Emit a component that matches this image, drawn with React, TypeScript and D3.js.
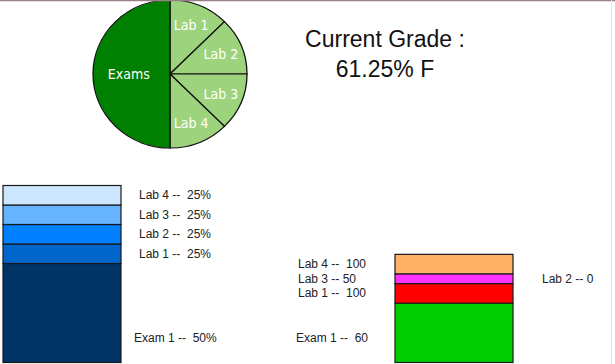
import React from "react";
import * as d3 from "d3";

const W = 615;
const H = 364;

// pie: course weights
const pieLabels = ["Lab 1", "Lab 2", "Lab 3", "Lab 4", "Exams"];
const pieWeights = [12.5, 12.5, 12.5, 12.5, 50];
const pieColors = ["#9dd37c", "#9dd37c", "#9dd37c", "#9dd37c", "#008000"];

// stacked bars, bottom to top
const parts = ["Exam 1", "Lab 1", "Lab 2", "Lab 3", "Lab 4"];
const kinds = ["exam", "lab", "lab", "lab", "lab"];
const weights = [50, 12.5, 12.5, 12.5, 12.5];
const weightText = ["50%", "25%", "25%", "25%", "25%"];
const scores = [60, 100, 0, 50, 100];
const weightColors = ["#003366", "#0066cc", "#0080ff", "#66b3ff", "#cce6ff"];
const scoreColors = ["#00cc00", "#ff0000", "#999999", "#ff33ff", "#ffb266"];

const grade = d3.sum(weights, (w, i) => (w * scores[i]) / 100);

const FONT = "'Liberation Sans', Arial, sans-serif";
const PIE_FONT = "'DejaVu Sans Condensed', 'DejaVu Sans', sans-serif";

// exams and labs are drawn at different heights per point
const examY = d3.scaleLinear().domain([0, 50]).range([0, 99]);
const labY = d3.scaleLinear().domain([0, 50]).range([0, 78]);
const segH = (i: number, pts: number) => (kinds[i] === "exam" ? examY(pts) : labY(pts));

type Seg = { i: number; y0: number; y1: number };

function stack(points: number[], base: number): Seg[] {
  let y = base;
  return points.map((p, i) => {
    const h = segH(i, p);
    const s = { i, y0: y - h, y1: y };
    y -= h;
    return s;
  });
}

const App = () => {
  const cx = 170;
  const cy = 74;
  const rx = 77;
  const ry = 74;
  const pie = d3
    .pie<number>()
    .sort(null)
    .value((d) => d)(pieWeights);
  const arc = d3.arc<d3.PieArcDatum<number>>().innerRadius(0).outerRadius(rx);
  const labelArc = d3.arc<d3.PieArcDatum<number>>().innerRadius(rx * 0.43).outerRadius(rx);
  const examArc = d3.arc<d3.PieArcDatum<number>>().innerRadius(rx * 0.07).outerRadius(rx);

  const base = 362.5;
  const barW = 118;
  const leftX = 3;
  const rightX = 395;

  const leftSegs = stack(weights, base);
  const rightSegs = stack(
    weights.map((w, i) => (w * scores[i]) / 100),
    base
  );

  return (
    <svg
      width={W}
      height={H}
      style={{ position: "absolute", left: 0, top: 0, background: "#fff" }}
    >
      <g transform={`translate(${cx},${cy}) scale(1,${ry / rx})`}>
        {pie.map((p, i) => (
          <path
            key={i}
            d={arc(p) || ""}
            fill={pieColors[i]}
            stroke="#111"
            strokeWidth={1.3}
          />
        ))}
      </g>
      {pie.map((p, i) => {
        const c = pieLabels[i] === "Exams" ? examArc.centroid(p) : labelArc.centroid(p);
        return (
          <text
            key={i}
            x={cx + c[0]}
            y={cy + c[1] * (ry / rx)}
            textAnchor="middle"
            dominantBaseline="central"
            fill="#fff"
            fontFamily={PIE_FONT}
            fontSize={14}
          >
            {pieLabels[i]}
          </text>
        );
      })}

      <text x={385} y={47} textAnchor="middle" fontFamily={FONT} fontSize={23} fill="#111">
        Current Grade :
      </text>
      <text x={385} y={77} textAnchor="middle" fontFamily={FONT} fontSize={23} fill="#111">
        {`${grade.toFixed(2)}% F`}
      </text>

      {/* weight bar */}
      {leftSegs.map((s) => (
        <rect
          key={s.i}
          x={leftX}
          y={s.y0}
          width={barW}
          height={s.y1 - s.y0}
          fill={weightColors[s.i]}
          stroke="#1a1a1a"
          strokeWidth={1.2}
        />
      ))}
      {leftSegs.map((s) => {
        const isExam = kinds[s.i] === "exam";
        return (
          <text
            key={s.i}
            x={isExam ? 134 : 139}
            y={isExam ? s.y1 - 25 : (s.y0 + s.y1) / 2}
            dominantBaseline="central"
            fontFamily={FONT}
            fontSize={12}
            fill="#222"
            style={{ whiteSpace: "pre" }}
          >
            {`${parts[s.i]} --  ${weightText[s.i]}`}
          </text>
        );
      })}

      {/* score bar */}
      {rightSegs.map((s) =>
        s.y1 - s.y0 > 0 ? (
          <rect
            key={s.i}
            x={rightX}
            y={s.y0}
            width={barW}
            height={s.y1 - s.y0}
            fill={scoreColors[s.i]}
            stroke="#1a1a1a"
            strokeWidth={1.2}
          />
        ) : null
      )}
      {rightSegs.map((s) => {
        const isExam = kinds[s.i] === "exam";
        const zero = s.y1 - s.y0 === 0;
        const sep = scores[s.i] === 100 || isExam ? "--  " : "-- ";
        return (
          <text
            key={s.i}
            x={zero ? 542 : isExam ? 296 : 298}
            y={zero ? s.y0 - 5 : isExam ? s.y1 - 25 : (s.y0 + s.y1) / 2}
            dominantBaseline="central"
            fontFamily={FONT}
            fontSize={12}
            fill="#222"
            style={{ whiteSpace: "pre" }}
          >
            {`${parts[s.i]} ${sep}${scores[s.i]}`}
          </text>
        );
      })}

      <line x1={0} x2={W} y1={0.5} y2={0.5} stroke="#9a7f88" strokeWidth={1.5} />
      <line x1={611.5} x2={611.5} y1={0} y2={H} stroke="#f3dde6" strokeWidth={1} />
    </svg>
  );
};

export default App;
